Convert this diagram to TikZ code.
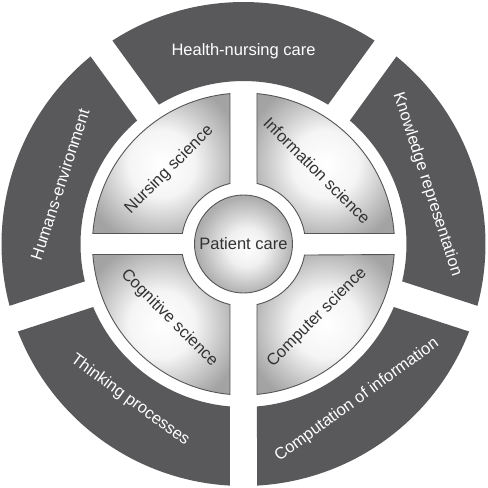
\documentclass[tikz,border=0pt]{standalone}
\usepackage{fontspec}
\setmainfont{Liberation Sans}
\definecolor{ringgray}{RGB}{89,89,91}
\definecolor{linegray}{RGB}{85,85,87}
\definecolor{textgray}{RGB}{50,50,52}
\pgfdeclareradialshading{quadfill}{\pgfpoint{0bp}{0bp}}{color(0bp)=(white); color(12bp)=(white!96!black); color(22bp)=(black!22); color(30bp)=(black!36); color(50bp)=(black!36)}
\pgfdeclareradialshading{hubfill}{\pgfpoint{2bp}{-2bp}}{color(0bp)=(white); color(10bp)=(white!94!black); color(25bp)=(black!32); color(50bp)=(black!32)}
\begin{document}
\begin{tikzpicture}[x=1pt,y=1pt,
  outerseg/.style={fill=ringgray},
  innerseg/.style={shading=quadfill,draw=linegray,line width=0.9pt},
  outertext/.style={text=white,font=\fontsize{16.5}{19}\selectfont},
  innertext/.style={text=textgray,font=\fontsize{16.5}{19}\selectfont}]
\useasboundingbox (-243.5,-244) rectangle (244.5,244);
% outer ring
\fill[outerseg] (57.2:242) arc[start angle=57.2,end angle=122.8,radius=242] -- (121.25:163) arc[start angle=121.25,end angle=58.75,radius=163] -- cycle;
\fill[outerseg] (129.2:242) arc[start angle=129.2,end angle=194.8,radius=242] -- (193.25:163) arc[start angle=193.25,end angle=130.75,radius=163] -- cycle;
\fill[outerseg] (201.2:242) arc[start angle=201.2,end angle=266.8,radius=242] -- (265.25:163) arc[start angle=265.25,end angle=202.75,radius=163] -- cycle;
\fill[outerseg] (273.2:242) arc[start angle=273.2,end angle=338.8,radius=242] -- (337.25:163) arc[start angle=337.25,end angle=274.75,radius=163] -- cycle;
\fill[outerseg] (-14.8:242) arc[start angle=-14.8,end angle=50.8,radius=242] -- (49.25:163) arc[start angle=49.25,end angle=-13.25,radius=163] -- cycle;
% inner quadrants
\shadedraw[innerseg] (3.99:151) arc[start angle=3.99,end angle=84.87,radius=151] -- (77.42:62) arc[start angle=77.42,end angle=9.75,radius=62] -- cycle;
\shadedraw[innerseg] (95.13:151) arc[start angle=95.13,end angle=176.01,radius=151] -- (170.25:62) arc[start angle=170.25,end angle=102.58,radius=62] -- cycle;
\shadedraw[innerseg] (183.99:151) arc[start angle=183.99,end angle=264.87,radius=151] -- (257.42:62) arc[start angle=257.42,end angle=189.75,radius=62] -- cycle;
\shadedraw[innerseg] (275.13:151) arc[start angle=275.13,end angle=356.01,radius=151] -- (349.75:62) arc[start angle=349.75,end angle=282.58,radius=62] -- cycle;
\node[circle,minimum size=98pt,inner sep=0pt,shading=hubfill,draw=linegray,line width=0.9pt,innertext] (patient) at (0,0) {Patient care};
% labels
\node[outertext] (health) at (90:193) {Health-nursing care};
\node[outertext,rotate=72] (humans) at (162:193) {Humans-environment};
\node[outertext,rotate=-36] (thinking) at (234:193) {Thinking processes};
\node[outertext,rotate=36] (computation) at (306:193) {Computation of information};
\node[outertext,rotate=-72] (knowledge) at (18:193) {Knowledge representation};
\node[innertext,rotate=45] (nursing) at (135:105) {Nursing science};
\node[innertext,rotate=-45] (information) at (45:104) {Information science};
\node[innertext,rotate=-45] (cognitive) at (225:105) {Cognitive science};
\node[innertext,rotate=45] (computer) at (315:104) {Computer science};
\end{tikzpicture}
\end{document}
